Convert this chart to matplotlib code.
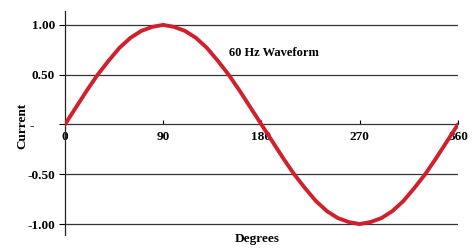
import matplotlib
matplotlib.use('Agg')
import matplotlib.pyplot as plt

# values
degrees = [0, 10, 20, 30, 40, 50, 60, 70, 80, 90, 100, 110, 120, 130, 140, 150, 160, 170, 180,
           190, 200, 210, 220, 230, 240, 250, 260, 270, 280, 290, 300, 310, 320, 330, 340, 350, 360]
current = [0.00, 0.17, 0.34, 0.50, 0.64, 0.77, 0.87, 0.94, 0.98, 1.00, 0.98, 0.94, 0.87, 0.77,
           0.64, 0.50, 0.34, 0.17, 0.00, -0.17, -0.34, -0.50, -0.64, -0.77, -0.87, -0.94, -0.98,
           -1.00, -0.98, -0.94, -0.87, -0.77, -0.64, -0.50, -0.34, -0.17, 0.00]

x_ticks = [0, 90, 180, 270, 360]
y_ticks = [-1.0, -0.5, 0.0, 0.5, 1.0]
y_labels = ['-1.00', '-0.50', '-      ', '0.50', '1.00']

plt.rcParams['font.family'] = ['Liberation Serif', 'DejaVu Serif']
plt.rcParams['font.weight'] = 'bold'

fig = plt.figure(figsize=(4.74, 2.52), dpi=100)
ax = fig.add_axes([0.137, 0.0675, 0.829, 0.889])

for y in [-1.0, -0.5, 0.5, 1.0]:
    ax.axhline(y, color='#333333', lw=0.9, zorder=1)

ax.plot(degrees, current, color='#d0202e', lw=2.8, solid_capstyle='round', zorder=3)

ax.set_xlim(0, 360)
ax.set_ylim(-1.11, 1.14)

ax.spines['top'].set_visible(False)
ax.spines['right'].set_visible(False)
ax.spines['bottom'].set_position(('data', 0))
ax.spines['bottom'].set_color('#333333')
ax.spines['bottom'].set_linewidth(0.9)
ax.spines['left'].set_color('#222222')
ax.spines['left'].set_linewidth(0.9)

ax.set_xticks(x_ticks)
ax.set_xticklabels([str(v) for v in x_ticks])
ax.set_yticks(y_ticks)
ax.set_yticklabels(y_labels)
ax.tick_params(axis='x', direction='in', length=3, pad=5, labelsize=9.5, width=0.8)
ax.tick_params(axis='y', direction='out', length=4, pad=3, labelsize=9.5, width=0.8)
for lab in ax.get_xticklabels() + ax.get_yticklabels():
    lab.set_fontweight('bold')

fig.text(0.047, 0.5, 'Current', rotation=90, ha='center', va='center',
         fontsize=9.5, fontweight='bold')
fig.text(0.542, 0.05, 'Degrees', ha='center', va='center', fontsize=9.5, fontweight='bold')
ax.text(150, 0.72, '60 Hz Waveform', ha='left', va='center', fontsize=9, fontweight='bold')

fig.savefig('out.png', dpi=100)
